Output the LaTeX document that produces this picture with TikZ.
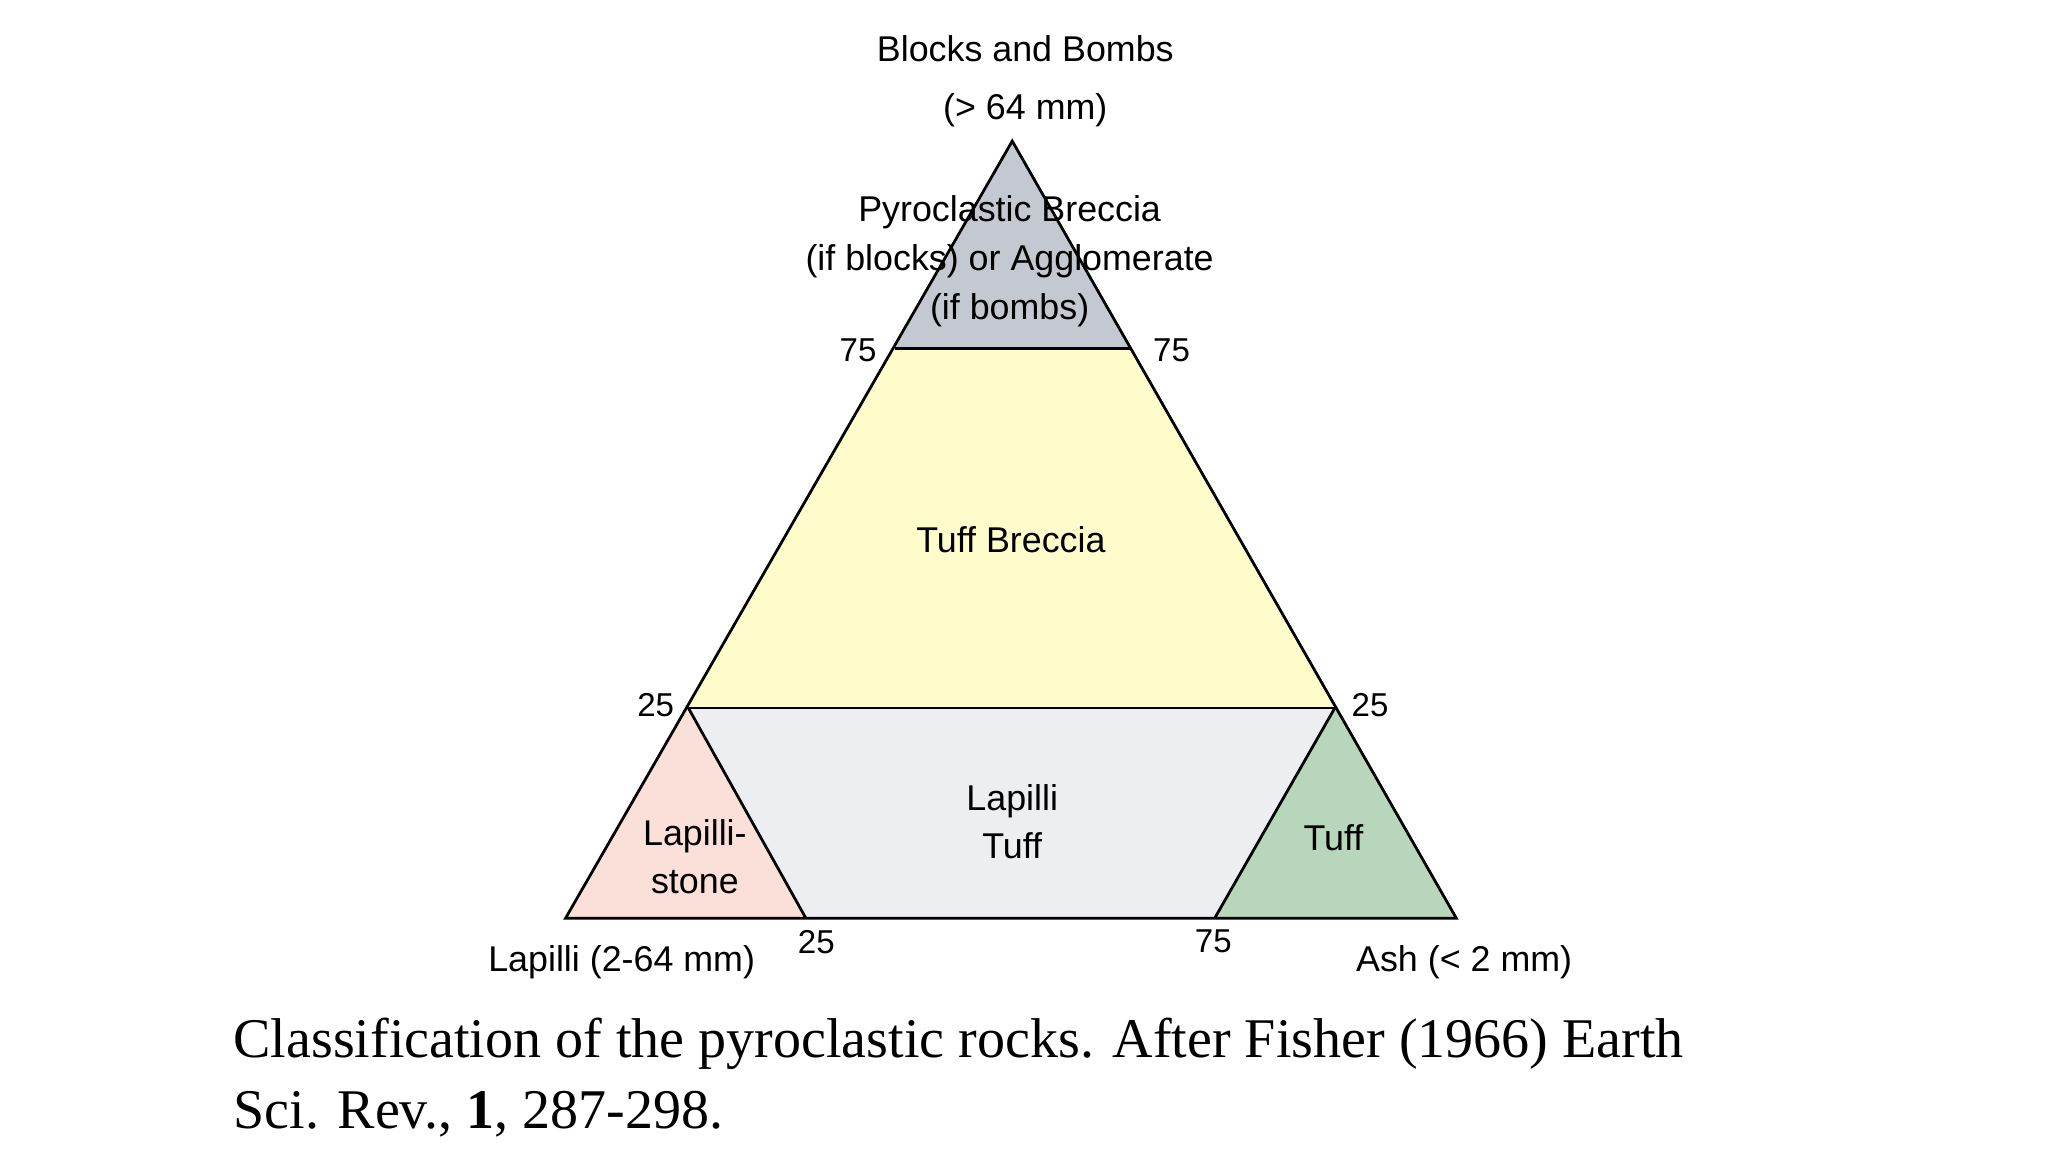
\documentclass[tikz,border=0pt]{standalone}
\usepackage{fontspec}
\setmainfont{Liberation Sans}
\newfontfamily\capfont{Liberation Serif}
\definecolor{cgray}{RGB}{196,200,208}
\definecolor{cyel}{RGB}{255,252,204}
\definecolor{clt}{RGB}{236,238,242}
\definecolor{cpink}{RGB}{250,224,216}
\definecolor{cgreen}{RGB}{183,214,188}
\begin{document}
\begin{tikzpicture}[x=0.01cm,y=-0.01cm,
  lab/.style={font=\fontsize{7.8}{10.6}\selectfont,align=center,inner sep=0pt},
  num/.style={font=\fontsize{7.2}{9}\selectfont,inner sep=0pt},
  reg/.style={draw=black,line width=0.6pt,line join=miter}]
\useasboundingbox (0,0) rectangle (1568,882);
\coordinate (A) at (775,108);
\coordinate (L) at (433,703);
\coordinate (R) at (1115,703);
\coordinate (ul) at (685,267); \coordinate (ur) at (866,267);
\coordinate (ml) at (527,542); \coordinate (mr) at (1022,542);
\coordinate (b1) at (617,703); \coordinate (b2) at (930,703);
\fill[cgray] (A)--(ur)--(ul)--cycle;
\fill[cyel] (ul)--(ur)--(mr)--(ml)--cycle;
\fill[clt] (ml)--(mr)--(b2)--(b1)--cycle;
\fill[cpink] (ml)--(b1)--(L)--cycle;
\fill[cgreen] (mr)--(R)--(b2)--cycle;
\draw[reg] (A)--(L)--(R)--cycle;
\draw[reg] (ul)--(ur);
\draw[reg] (ml)--(mr);
\draw[reg] (ml)--(b1);
\draw[reg] (mr)--(b2);
\node[lab] (top) at (785,62) {Blocks and Bombs\\[2pt](> 64 mm)};
\node[lab] (pb) at (773,200) {Pyroclastic Breccia\\(if blocks) or Agglomerate\\(if bombs)};
\node[lab] (tb) at (774,413) {Tuff Breccia};
\node[lab] (lt) at (775,629) {Lapilli\\Tuff};
\node[lab] (ls) at (532,656) {Lapilli-\\stone};
\node[lab] (tf) at (1021,641) {Tuff};
\node[lab] (lap) at (476,737) {Lapilli (2-64 mm)};
\node[lab] (ash) at (1121,737) {Ash (< 2 mm)};
\node[num] at (657,268) {75};
\node[num] at (897,268) {75};
\node[num] at (502,540) {25};
\node[num] at (1049,540) {25};
\node[num] at (625,721) {25};
\node[num] at (929,721) {75};
\node[anchor=west,inner sep=0pt,align=left,font=\capfont\fontsize{12.2}{15.6}\selectfont] (cap) at (178,825)
 {Classification of the pyroclastic rocks. After Fisher (1966) Earth\\Sci. Rev., \textbf{1}, 287-298.};
\end{tikzpicture}
\end{document}
